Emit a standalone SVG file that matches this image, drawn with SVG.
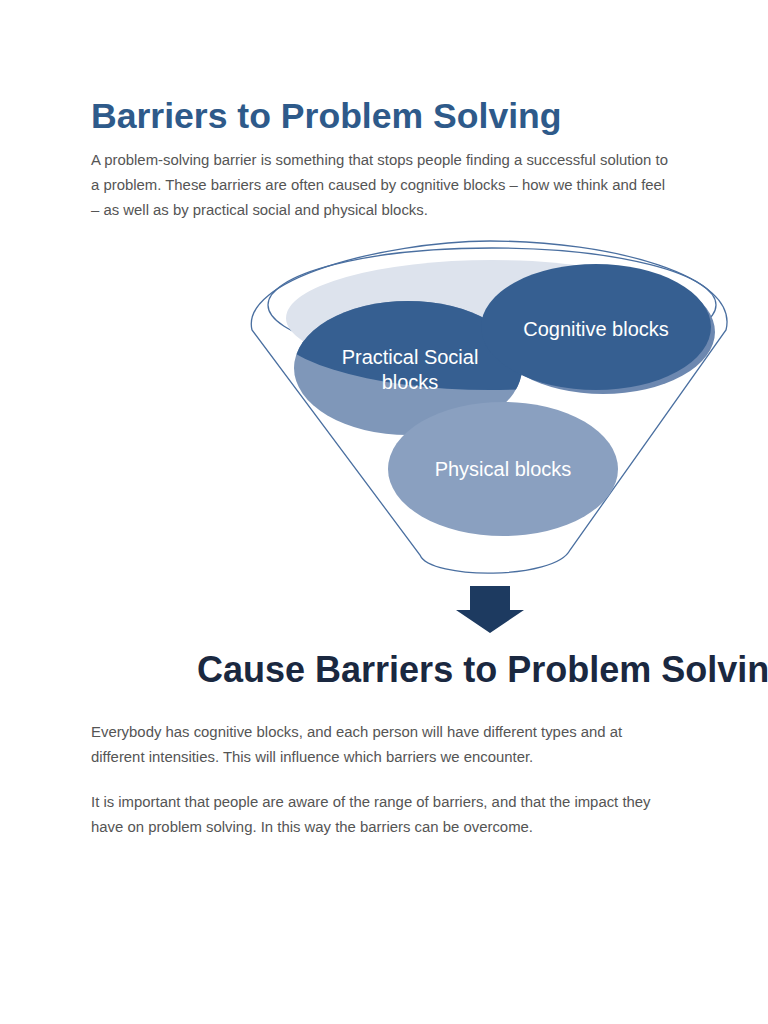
<svg xmlns="http://www.w3.org/2000/svg" width="768" height="1024" viewBox="0 0 768 1024">
<style>
.p{font-family:"Liberation Sans",Arial,sans-serif;font-size:14.9px;fill:#555}
.lbl{font-family:"Liberation Sans",Arial,sans-serif;font-size:20px;fill:#fff;text-anchor:middle}
</style>
<defs>
<clipPath id="rim"><ellipse cx="490" cy="320" rx="222" ry="70"/></clipPath>
</defs>
<rect width="768" height="1024" fill="#fff"/>
<text x="91" y="128" font-family="Liberation Sans,Arial,sans-serif" font-size="35.6" font-weight="bold" fill="#2e5a8a">Barriers to Problem Solving</text>
<text class="p" x="91" y="165">A problem-solving barrier is something that stops people finding a successful solution to</text>
<text class="p" x="91" y="190">a problem. These barriers are often caused by cognitive blocks – how we think and feel</text>
<text class="p" x="91" y="215">– as well as by practical social and physical blocks.</text>
<g id="funnel" fill="none" stroke="#4a6fa0" stroke-width="1.3">
<path d="M252,330 C240,280 380,242 490,241 C610,241 740,275 726,330 L570,550 C555,580 430,580 420,555 Z" fill="#fff"/>
<ellipse cx="492" cy="305" rx="224" ry="57"/>
</g>
<ellipse cx="492" cy="318" rx="206" ry="58" fill="#dde3ed"/>
<g id="practical">
<ellipse cx="408" cy="368" rx="114" ry="67" fill="#7f97b9"/>
<ellipse cx="408" cy="368" rx="114" ry="67" fill="#365f91" clip-path="url(#rim)"/>
<text class="lbl" x="410" y="364">Practical Social</text>
<text class="lbl" x="410" y="389">blocks</text>
</g>
<g id="cognitive">
<ellipse cx="603" cy="332" rx="112" ry="62" fill="#6d88b0"/>
<ellipse cx="596" cy="327" rx="115" ry="63" fill="#365f91"/>
<text class="lbl" x="596" y="336">Cognitive blocks</text>
</g>
<g id="physical">
<ellipse cx="503" cy="469" rx="115" ry="67" fill="#8aa0c0"/>
<text class="lbl" x="503" y="476">Physical blocks</text>
</g>
<g id="connectors">
<path d="M470,586 H510 V610 H524 L490,633 L456,610 H470 Z" fill="#1d3a60"/>
</g>
<text x="197" y="682" font-family="Liberation Sans,Arial,sans-serif" font-size="36" font-weight="bold" fill="#1a2840">Cause Barriers to Problem Solving</text>
<text class="p" x="91" y="737">Everybody has cognitive blocks, and each person will have different types and at</text>
<text class="p" x="91" y="762">different intensities. This will influence which barriers we encounter.</text>
<text class="p" x="91" y="807">It is important that people are aware of the range of barriers, and that the impact they</text>
<text class="p" x="91" y="832">have on problem solving. In this way the barriers can be overcome.</text>
</svg>
